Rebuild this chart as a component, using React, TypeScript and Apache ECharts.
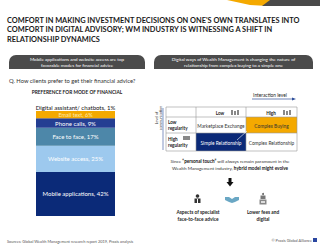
import React, { useEffect, useRef } from "react";
import * as echarts from "echarts";

const categories = ["Preference"];
const segmentNames = ["Mobile applications", "Website access", "Face to face", "Phone calls", "Email text", "Digital assistant/ chatbots"];
const segmentValues = [42, 25, 17, 9, 6, 1];
const segmentColors = ["#0b2a78", "#9dc9ee", "#4d87a9", "#243e92", "#f4a900", "#f4a900"];

const FONT = "Lato, 'Open Sans', sans-serif";

export default function App() {
  const ref = useRef<HTMLDivElement>(null);
  useEffect(() => {
    const chart = echarts.init(ref.current!, null, { renderer: "svg" });
    const series: any[] = segmentNames.map((name, i) => ({
      type: "bar",
      name,
      stack: "s",
      data: [segmentValues[i]],
      barWidth: "100%",
      itemStyle: { color: segmentColors[i] },
      label: i === 5
        ? { show: true, position: "top", distance: 1, formatter: "{a}, {c}%", color: "#111", fontSize: 6, fontFamily: FONT }
        : { show: true, position: "inside", formatter: "{a}, {c}%", color: i === 4 ? "#fde9b0" : "#ffffff", fontSize: i === 4 ? 5.5 : 6, fontFamily: FONT },
    }));

    const txt = (x: number, y: number, text: string, o: any = {}) => ({
      type: "text", x, y, silent: true,
      style: { text, fontFamily: FONT, fontSize: 5, fill: "#222", align: "left", verticalAlign: "middle", ...o },
    });
    const rect = (x: number, y: number, w: number, h: number, fill: string, stroke?: string) => ({
      type: "rect", shape: { x, y, width: w, height: h }, silent: true,
      style: { fill, stroke: stroke || null, lineWidth: 0.6 },
    });

    const graphic: any[] = [
      { type: "polygon", shape: { points: [[227, 0], [272, 0], [268, 6], [250, 5]] }, style: { fill: "#f4a900" } },
      { type: "polygon", shape: { points: [[262, 6], [270, 0], [320, 0], [320, 6]] }, style: { fill: "#4a4a4a" } },
      txt(7, 20, "COMFORT IN MAKING INVESTMENT DECISIONS ON ONE'S OWN TRANSLATES INTO", { fontSize: 7.4, fontWeight: "bold", fill: "#1a1a1a" }),
      txt(7, 29.5, "COMFORT IN DIGITAL ADVISORY; WM INDUSTRY IS WITNESSING A SHIFT IN", { fontSize: 7.4, fontWeight: "bold", fill: "#1a1a1a" }),
      txt(7, 39, "RELATIONSHIP DYNAMICS", { fontSize: 7.4, fontWeight: "bold", fill: "#1a1a1a" }),
      { type: "rect", shape: { x: 9, y: 55, width: 136, height: 14, r: [7, 7, 0, 0] }, style: { fill: "#4b4b4b" } },
      txt(77, 59, "Mobile applications and website access are top", { align: "center", fill: "#fff", fontSize: 4.6 }),
      txt(77, 65, "favorable modes for financial advice", { align: "center", fill: "#fff", fontSize: 4.6 }),
      { type: "rect", shape: { x: 154, y: 55, width: 159, height: 14, r: [7, 7, 0, 0] }, style: { fill: "#4b4b4b" } },
      txt(233.5, 59, "Digital ways of Wealth Management is changing the nature of", { align: "center", fill: "#fff", fontSize: 4.6 }),
      txt(233.5, 65, "relationship from complex buying to a simple one", { align: "center", fill: "#fff", fontSize: 4.6 }),
      txt(9, 80, "Q. How clients prefer to get their financial advice?", { fontSize: 5.8, fill: "#333" }),
      txt(77, 92, "PREFERENCE FOR MODE OF FINANCIAL", { align: "center", fontSize: 4.8, fontWeight: "bold", fill: "#222" }),
      txt(270, 94.5, "Interaction level", { align: "center", fontSize: 4.8, fill: "#222" }),
      { type: "line", shape: { x1: 252, y1: 99, x2: 294, y2: 99 }, style: { stroke: "#2f4f9a", lineWidth: 0.7 } },
      { type: "polygon", shape: { points: [[296, 99], [292, 97.5], [292, 100.5]] }, style: { fill: "#2f4f9a" } },
      { type: "text", x: 158, y: 118, rotation: Math.PI / 2, style: { text: "Level of\ncommunication", fontFamily: FONT, fontSize: 3.6, fill: "#333", align: "center", verticalAlign: "middle", lineHeight: 4 } },
      { type: "line", shape: { x1: 163, y1: 108, x2: 163, y2: 150 }, style: { stroke: "#2f4f9a", lineWidth: 0.6 } },
      rect(196, 133, 50, 18, "#0b2a78"),
      rect(246, 117, 51, 16, "#f4a900"),
      rect(166, 107, 131, 44, "none", "#999"),
      { type: "line", shape: { x1: 166, y1: 117, x2: 297, y2: 117 }, style: { stroke: "#999", lineWidth: 0.6 } },
      { type: "line", shape: { x1: 166, y1: 133, x2: 297, y2: 133 }, style: { stroke: "#999", lineWidth: 0.6 } },
      { type: "line", shape: { x1: 196, y1: 107, x2: 196, y2: 151 }, style: { stroke: "#999", lineWidth: 0.6 } },
      { type: "line", shape: { x1: 246, y1: 107, x2: 246, y2: 151 }, style: { stroke: "#999", lineWidth: 0.6 } },
      txt(220, 113, "Low", { align: "center", fontSize: 4.6, fontWeight: "bold" }),
      txt(271, 113, "High", { align: "center", fontSize: 4.6, fontWeight: "bold" }),
      rect(231, 110, 2, 5, "#888"), rect(234, 111, 2, 4, "#888"), rect(237, 110, 2, 5, "#888"),
      rect(283, 110, 2, 5, "#888"), rect(286, 111, 2, 4, "#888"), rect(289, 110, 2, 5, "#888"),
      txt(168, 122, "Low", { fontSize: 4.6, fontWeight: "bold" }),
      txt(168, 128, "regularity", { fontSize: 4.6, fontWeight: "bold" }),
      txt(168, 139, "High", { fontSize: 4.6, fontWeight: "bold" }),
      txt(168, 145, "regularity", { fontSize: 4.6, fontWeight: "bold" }),
      rect(183, 136, 7, 4, "#888"),
      txt(221, 125.5, "Marketplace Exchange", { align: "center", fontSize: 4.8, fill: "#333" }),
      txt(271.5, 125.5, "Complex Buying", { align: "center", fontSize: 4.8, fill: "#333" }),
      txt(221, 143, "Simple Relationship", { align: "center", fontSize: 4.8, fill: "#fff" }),
      txt(271.5, 143, "Complex Relationship", { align: "center", fontSize: 4.8, fill: "#333" }),
      { type: "line", shape: { x1: 237, y1: 140, x2: 247, y2: 131 }, style: { stroke: "#fff", lineWidth: 0.6 } },
      { type: "text", x: 230, y: 161, style: { rich: { n: { fontSize: 4.6, fill: "#333", fontFamily: FONT }, b: { fontSize: 4.6, fill: "#111", fontWeight: "bold", fontFamily: FONT } }, text: "{n|Since }{b|\u201cpersonal touch\u201d}{n| will always remain paramount in the}", align: "center", verticalAlign: "middle" } },
      { type: "text", x: 230, y: 167.5, style: { rich: { n: { fontSize: 4.6, fill: "#333", fontFamily: FONT }, b: { fontSize: 4.6, fill: "#111", fontWeight: "bold", fontFamily: FONT } }, text: "{n|Wealth Management industry, }{b|hybrid model might evolve}", align: "center", verticalAlign: "middle" } },
      rect(228.5, 178, 3, 4, "#111"),
      { type: "polygon", shape: { points: [[226.5, 182], [233.5, 182], [230, 186.5]] }, style: { fill: "#111" } },
      { type: "circle", shape: { cx: 197.5, cy: 196, r: 1.8 }, style: { fill: "#333" } },
      rect(194.5, 198.5, 6, 4.5, "#333"),
      rect(197, 199, 1, 4, "#fff"),
      { type: "polygon", shape: { points: [[225, 197], [229, 197], [232, 199], [235, 197], [239, 197], [239, 200], [235, 202], [232, 203], [229, 202], [225, 200]] }, style: { fill: "#6aa7c4" } },
      { type: "circle", shape: { cx: 263, cy: 194, r: 1 }, style: { fill: "#666" } },
      rect(260.5, 195.5, 5, 3.5, "#777"),
      rect(259.5, 199.5, 7, 5, "#888"),
      rect(261, 201, 4, 2, "#ddd"),
      txt(198, 212, "Aspects of specialist", { align: "center", fontSize: 4.8, fontWeight: "bold", fill: "#222" }),
      txt(198, 218.5, "face-to-face advice", { align: "center", fontSize: 4.8, fontWeight: "bold", fill: "#222" }),
      txt(263, 212, "Lower fees and", { align: "center", fontSize: 4.8, fontWeight: "bold", fill: "#222" }),
      txt(263, 218.5, "digital", { align: "center", fontSize: 4.8, fontWeight: "bold", fill: "#222" }),
      txt(7, 241, "Sources: Global Wealth Management research report 2019, Praxis analysis", { fontSize: 3.9, fill: "#555" }),
      txt(312, 240.5, "\u00a9 Praxis Global Alliance", { align: "right", fontSize: 3.9, fill: "#555" }),
      rect(313, 238, 4, 4, "#2a46a0"),
    ];

    chart.setOption({
      animation: false,
      backgroundColor: "#ffffff",
      grid: { left: 36, right: 205, top: 111, bottom: 31, containLabel: false },
      xAxis: { type: "category", data: categories, show: false },
      yAxis: { type: "value", min: 0, max: 100, show: false },
      series,
      graphic,
    });
    return () => chart.dispose();
  }, []);
  return <div ref={ref} style={{ width: 320, height: 247, position: "absolute", left: 0, top: 0 }} />;
}
